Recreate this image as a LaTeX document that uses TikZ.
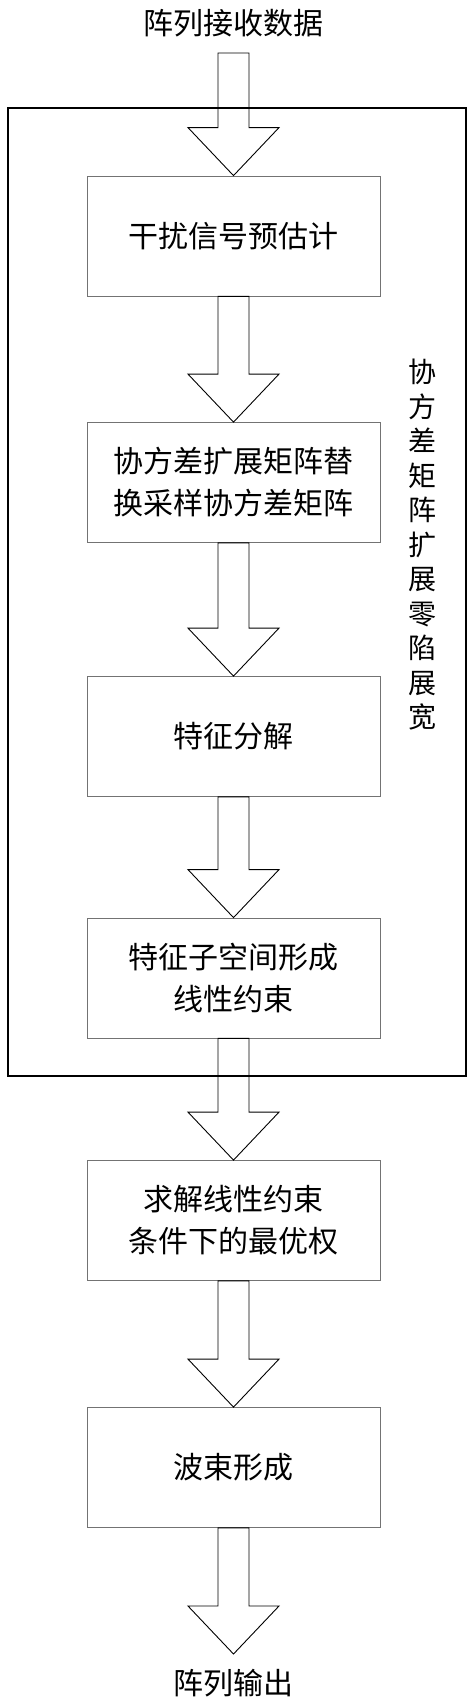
\documentclass[tikz,border=0pt]{standalone}
\usepackage{fontspec}
\setmainfont{Noto Sans CJK SC}
\usetikzlibrary{calc}

\tikzset{
  stage/.style={draw=black!55, line width=0.8pt, minimum width=293pt, minimum height=120pt,
    inner sep=0pt, align=center, font=\fontsize{30}{42}\selectfont},
  caption/.style={inner sep=0pt, font=\fontsize{30}{36}\selectfont},
  vlabel/.style={inner sep=0pt, align=center, font=\fontsize{28}{34.5}\selectfont},
  hollow/.style={draw=black, line width=0.9pt, line join=miter},
  groupframe/.style={draw=black, line width=2.5pt, minimum width=458pt, minimum height=968pt}
}

% hollow block arrow from #1 down to the tip #2
\newcommand{\hollowarrow}[2]{%
  \draw[hollow] let \p1=#1, \p2=#2 in
    (\x1-15.5pt,\y1) -- (\x1+15.5pt,\y1) -- (\x1+15.5pt,\y2+48pt)
    -- (\x1+45.5pt,\y2+48pt) -- (\x2,\y2) -- (\x1-45.5pt,\y2+48pt)
    -- (\x1-15.5pt,\y2+48pt) -- cycle;}

\begin{document}
\begin{tikzpicture}[x=1pt,y=-1pt]
    \useasboundingbox (0,0) rectangle (474,1707);
    \node[caption] (src) at (233,23) {阵列接收数据};
    \coordinate (in) at (233.5,53);
    \node[stage] (b1) at (233.5,236) {干扰信号预估计};
    \node[stage] (b2) at (233.5,482.5) {协方差扩展矩阵替\\换采样协方差矩阵};
    \node[stage] (b3) at (233.5,736.5) {特征分解};
    \node[stage] (b4) at (233.5,978) {特征子空间形成\\线性约束};
    \node[stage] (b5) at (233.5,1220.5) {求解线性约束\\条件下的最优权};
    \node[stage] (b6) at (233.5,1467.5) {波束形成};
    \coordinate (out) at (233.5,1654);
    \node[caption] (dst) at (233,1683) {阵列输出};
    \hollowarrow{(in)}{(b1.north)}
    \hollowarrow{(b1.south)}{(b2.north)}
    \hollowarrow{(b2.south)}{(b3.north)}
    \hollowarrow{(b3.south)}{(b4.north)}
    \hollowarrow{(b4.south)}{(b5.north)}
    \hollowarrow{(b5.south)}{(b6.north)}
    \hollowarrow{(b6.south)}{(out)}
    \node[groupframe] (group) at (237,592) {};
    \node[vlabel] (note) at (422,545) {协\\方\\差\\矩\\阵\\扩\\展\\零\\陷\\展\\宽};
\end{tikzpicture}
\end{document}
